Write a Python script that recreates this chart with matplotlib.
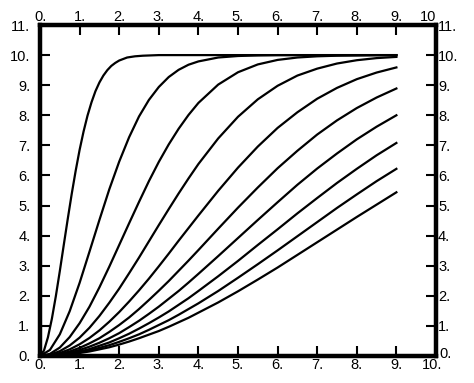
import matplotlib
matplotlib.use("Agg")
import matplotlib.pyplot as plt
from matplotlib.transforms import ScaledTranslation

# x sampling of the fast curve (denser around its bend)
x_fast = [0, 0.1, 0.2, 0.3, 0.4, 0.5, 0.6, 0.7, 0.8, 0.9, 1.0, 1.1, 1.2, 1.3, 1.4,
          1.5, 1.6, 1.7, 1.8, 1.9, 2.0, 2.2, 2.4, 2.6, 2.8, 3.0, 4.0, 5.0, 6.0, 7.0,
          8.0, 9.0]
curve1 = [0, 0.18, 0.62, 1.24, 1.99, 2.82, 3.69, 4.55, 5.38, 6.15, 6.85, 7.46, 7.99,
          8.43, 8.80, 9.09, 9.32, 9.50, 9.64, 9.74, 9.82, 9.92, 9.96, 9.98, 9.99,
          10.0, 10.0, 10.0, 10.0, 10.0, 10.0, 10.0]

# shared x sampling of the other curves
x_vals = [0, 0.25, 0.5, 0.75, 1.0, 1.25, 1.5, 1.75, 2.0, 2.25, 2.5, 2.75, 3.0,
          3.25, 3.5, 3.75, 4.0, 4.5, 5.0, 5.5, 6.0, 6.5, 7.0, 7.5, 8.0, 8.5, 9.0]

curve2 = [0, 0.20, 0.72, 1.49, 2.43, 3.47, 4.52, 5.54, 6.46, 7.27, 7.96, 8.51, 8.94,
          9.27, 9.51, 9.68, 9.79, 9.92, 9.97, 9.99, 10.0, 10.0, 10.0, 10.0, 10.0, 10.0, 10.0]
curve3 = [0, 0.07, 0.28, 0.63, 1.09, 1.64, 2.28, 2.97, 3.69, 4.41, 5.12, 5.81, 6.45,
          7.03, 7.55, 8.01, 8.41, 9.02, 9.43, 9.69, 9.84, 9.92, 9.96, 9.98, 9.99, 10.0, 10.0]
curve4 = [0, 0.04, 0.16, 0.35, 0.61, 0.94, 1.33, 1.77, 2.24, 2.75, 3.27, 3.81, 4.35,
          4.88, 5.40, 5.90, 6.38, 7.23, 7.95, 8.53, 8.98, 9.32, 9.55, 9.72, 9.83, 9.90, 9.94]
curve5 = [0, 0.02, 0.10, 0.22, 0.39, 0.60, 0.85, 1.14, 1.46, 1.81, 2.18, 2.57, 2.98,
          3.40, 3.83, 4.25, 4.67, 5.49, 6.26, 6.96, 7.58, 8.10, 8.55, 8.91, 9.20, 9.42, 9.59]
curve6 = [0, 0.02, 0.07, 0.15, 0.27, 0.42, 0.59, 0.80, 1.03, 1.28, 1.56, 1.86, 2.17,
          2.49, 2.83, 3.17, 3.52, 4.23, 4.93, 5.60, 6.24, 6.82, 7.36, 7.83, 8.24, 8.59, 8.89]
curve7 = [0, 0.01, 0.05, 0.11, 0.20, 0.31, 0.44, 0.59, 0.76, 0.96, 1.17, 1.40, 1.64,
          1.90, 2.16, 2.44, 2.73, 3.32, 3.92, 4.52, 5.11, 5.69, 6.23, 6.73, 7.20, 7.62, 8.00]
curve8 = [0, 0.01, 0.04, 0.09, 0.15, 0.23, 0.34, 0.45, 0.59, 0.74, 0.91, 1.09, 1.28,
          1.48, 1.70, 1.92, 2.16, 2.65, 3.16, 3.69, 4.21, 4.74, 5.25, 5.75, 6.22, 6.67, 7.08]
curve9 = [0, 0.01, 0.03, 0.07, 0.12, 0.19, 0.27, 0.36, 0.47, 0.59, 0.72, 0.87, 1.03,
          1.19, 1.37, 1.56, 1.75, 2.16, 2.60, 3.05, 3.51, 3.98, 4.45, 4.92, 5.37, 5.81, 6.22]
curve10 = [0, 0.01, 0.02, 0.05, 0.10, 0.15, 0.22, 0.29, 0.38, 0.48, 0.59, 0.71, 0.83,
           0.97, 1.12, 1.27, 1.44, 1.78, 2.15, 2.54, 2.94, 3.36, 3.78, 4.20, 4.62, 5.03, 5.44]

other_curves = [curve2, curve3, curve4, curve5, curve6, curve7, curve8, curve9, curve10]

x_ticks = list(range(0, 11))
y_ticks = list(range(0, 12))
bottom_labels = ["0.", "1.", "2.", "3.", "4.", "5.", "6.", "7.", "8.", "9.", "10."]
top_labels = ["0.", "1.", "2.", "3.", "4.", "5.", "6.", "7.", "8.", "9.", "10"]
left_labels = ["0.", "1.", "2.", "3.", "4.", "5.", "6.", "7.", "8.", "9.", "10.", "11."]
right_labels = left_labels

plt.rcParams['font.family'] = ['Liberation Sans', 'DejaVu Sans']

fig = plt.figure(figsize=(4.74, 3.83), dpi=100)
ax = fig.add_axes([0.0844, 0.0705, 0.8354, 0.8642])

ax.plot(x_fast, curve1, color='black', lw=1.6, clip_on=False)
for c in other_curves:
    ax.plot(x_vals, c, color='black', lw=1.6, clip_on=False)

FS = 10.5
ax.set_xlim(0, 10)
ax.set_ylim(0, 11)
ax.set_xticks(x_ticks)
ax.set_xticklabels(bottom_labels)
ax.set_yticks(y_ticks)
ax.set_yticklabels(left_labels)
ax.tick_params(axis='both', direction='in', length=7, width=1.5, labelsize=FS,
               top=False, right=False)
ax.tick_params(axis='x', pad=1.5)
ax.tick_params(axis='y', pad=7)
last_bottom = ax.get_xticklabels()[-1]
last_bottom.set_transform(last_bottom.get_transform() +
                          ScaledTranslation(-4 / 100, 0, fig.dpi_scale_trans))

axt = ax.twiny()
axt.set_xlim(0, 10)
axt.set_xticks(x_ticks)
axt.set_xticklabels(top_labels)
axt.tick_params(axis='x', direction='in', length=7, width=1.5, labelsize=FS, pad=1.0)
axt.get_xticklabels()[-1].set_horizontalalignment('right')

axr = ax.twinx()
axr.set_ylim(0, 11)
axr.set_yticks(y_ticks)
axr.set_yticklabels(right_labels)
axr.tick_params(axis='y', direction='in', length=7, width=1.5, labelsize=FS, pad=1.5)
first_right = axr.get_yticklabels()[0]
first_right.set_transform(first_right.get_transform() +
                          ScaledTranslation(1 / 100, 3 / 100, fig.dpi_scale_trans))

for a in (ax, axt, axr):
    for s in a.spines.values():
        s.set_linewidth(3)
        s.set_color('black')

fig.savefig("out.png", dpi=100)
